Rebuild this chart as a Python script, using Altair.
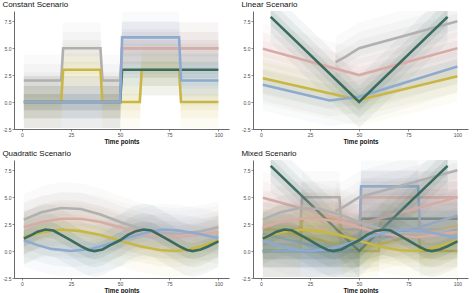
import altair as alt
import pandas as pd

# ---- cluster mean trajectories: (time point, value) ----
CONST_GREY = [(1, 2), (20, 2), (21, 5), (40, 5), (41, 2), (50, 2), (51, 5), (100, 5)]
CONST_PINK = [(1, 0), (50, 0), (51, 5), (100, 5)]
CONST_YELLOW = [(1, 0), (20, 0), (21, 3), (40, 3), (41, 0), (60, 0), (61, 3), (80, 3), (81, 0), (100, 0)]
CONST_TEAL = [(1, 0), (50, 0), (51, 3), (100, 3)]
CONST_BLUE = [(1, 0), (50, 0), (51, 6), (80, 6), (81, 2), (100, 2)]

LIN_GREY = [(38, 3.7), (43, 4.2), (50, 5.0), (100, 7.5)]
LIN_PINK = [(1, 4.95), (50, 2.5), (100, 5.0)]
LIN_YELLOW = [(1, 2.2), (50, 0.2), (100, 2.4)]
LIN_TEAL = [(5, 7.9), (50, 0.0), (95, 7.9)]
LIN_BLUE = [(1, 1.6), (35, 0.15), (50, 0.5), (100, 3.3)]

QUAD_GREY = [(1, 2.9), (10, 3.6), (20, 4.0), (30, 3.9), (40, 3.4), (50, 2.7), (60, 2.1),
             (70, 1.7), (80, 1.6), (90, 1.8), (100, 2.2)]
QUAD_PINK = [(1, 2.2), (10, 2.7), (20, 3.0), (30, 3.0), (40, 2.7), (50, 2.2), (60, 1.7),
             (70, 1.4), (80, 1.3), (90, 1.5), (100, 1.8)]
QUAD_YELLOW = [(1, 1.3), (10, 1.75), (20, 2.0), (30, 1.85), (40, 1.5), (50, 0.95), (60, 0.45),
               (70, 0.1), (78, 0.0), (85, 0.15), (92, 0.5), (100, 1.0)]
QUAD_TEAL = [(1, 1.15), (5, 1.5), (8, 1.8), (12, 2.0), (16, 1.9), (20, 1.5), (25, 1.0), (30, 0.45),
             (34, 0.1), (37, 0.0), (41, 0.15), (45, 0.55), (50, 1.0), (54, 1.5), (58, 1.85),
             (62, 2.0), (66, 1.9), (70, 1.5), (75, 1.0), (80, 0.45), (84, 0.1), (87, 0.0),
             (91, 0.15), (95, 0.45), (100, 0.9)]
QUAD_BLUE = [(1, 1.0), (8, 0.55), (15, 0.2), (25, 0.0), (35, 0.2), (45, 0.7), (55, 1.3),
             (65, 1.8), (72, 2.0), (80, 1.9), (90, 1.6), (100, 1.2)]

X_TICKS = [0, 25, 50, 75, 100]
Y_TICKS = [-2.5, 0, 2.5, 5, 7.5]

# ---- styling ----
PALETTE = {"grey": "#b0b0b0", "pink": "#d8aca6", "yellow": "#c9b644",
           "teal": "#3b6b5e", "blue": "#8eaad0"}
T_DOMAIN = [-4, 105.4]
V_DOMAIN = [-2.5, 8.45]
# spread of the individual trajectories around each mean: (half width, opacity)
SPREAD = [(2.4, 0.06), (1.5, 0.08), (0.75, 0.10)]

CONSTANT = [("grey", CONST_GREY), ("pink", CONST_PINK), ("yellow", CONST_YELLOW),
            ("teal", CONST_TEAL), ("blue", CONST_BLUE)]
LINEAR = [("grey", LIN_GREY), ("pink", LIN_PINK), ("yellow", LIN_YELLOW),
          ("blue", LIN_BLUE), ("teal", LIN_TEAL)]
QUADRATIC = [("grey", QUAD_GREY), ("pink", QUAD_PINK), ("yellow", QUAD_YELLOW),
             ("blue", QUAD_BLUE), ("teal", QUAD_TEAL)]


def x_enc():
    return alt.X("t:Q", scale=alt.Scale(domain=T_DOMAIN, nice=False, zero=False),
                 axis=alt.Axis(values=X_TICKS, title="Time points", format="d"))


def y_enc(field):
    return alt.Y(field, scale=alt.Scale(domain=V_DOMAIN, nice=False, zero=False),
                 stack=None,
                 axis=alt.Axis(values=Y_TICKS, title=None,
                               labelExpr="replace(format(datum.value, '.1f'), '\u2212', '-')"))


def group_layers(series):
    """Spread bands followed by the thick mean lines for one scenario."""
    rows = []
    for sid, (key, pts) in enumerate(series):
        for t, v in pts:
            rows.append({"sid": sid, "cluster": key, "t": t, "v": v})
    base = alt.Chart(pd.DataFrame(rows))
    color = alt.Color("cluster:N", legend=None,
                      scale=alt.Scale(domain=list(PALETTE), range=list(PALETTE.values())))
    layers = []
    for half, op in SPREAD:
        layers.append(
            base.transform_calculate(lo=f"datum.v - {half}", hi=f"datum.v + {half}")
            .mark_area(opacity=op, clip=True)
            .encode(x=x_enc(), y=y_enc("lo:Q"), y2="hi:Q", color=color, detail="sid:N"))
    for sid, (key, _) in enumerate(series):
        layers.append(
            base.transform_filter(alt.datum.sid == sid)
            .mark_line(strokeWidth=2.6, clip=True, color=PALETTE[key])
            .encode(x=x_enc(), y=y_enc("v:Q"), order="t:Q"))
    return layers


def panel(title, groups):
    layers = []
    for series in groups:
        layers += group_layers(series)
    return alt.layer(*layers).properties(
        width=215, height=118,
        title=alt.Title(title, anchor="start", frame="bounds", fontSize=8, offset=2,
                        color="#111111", fontWeight="normal", font="Liberation Sans"))


chart = alt.concat(
    panel("Constant Scenario", [CONSTANT]),
    panel("Linear Scenario", [LINEAR]),
    panel("Quadratic Scenario", [QUADRATIC]),
    panel("Mixed Scenario", [CONSTANT, LINEAR, QUADRATIC]),
    columns=2, spacing=alt.RowColnumber(column=24, row=31), bounds="flush",
).configure(
    padding={"left": 2, "top": 1, "right": 6, "bottom": 0}, font="Liberation Sans",
    background="white",
).configure_view(stroke=None).configure_axis(
    grid=False, domainColor="#444444", domainWidth=0.8, tickColor="#444444", tickSize=2,
    tickWidth=0.6, labelFontSize=5, labelColor="#4d4d4d", labelPadding=1,
    titleFontSize=6.3, titleColor="#111111", titleFontWeight=600, titlePadding=1,
)

chart.save("out.html", embed_options={"renderer": "svg", "actions": False})
